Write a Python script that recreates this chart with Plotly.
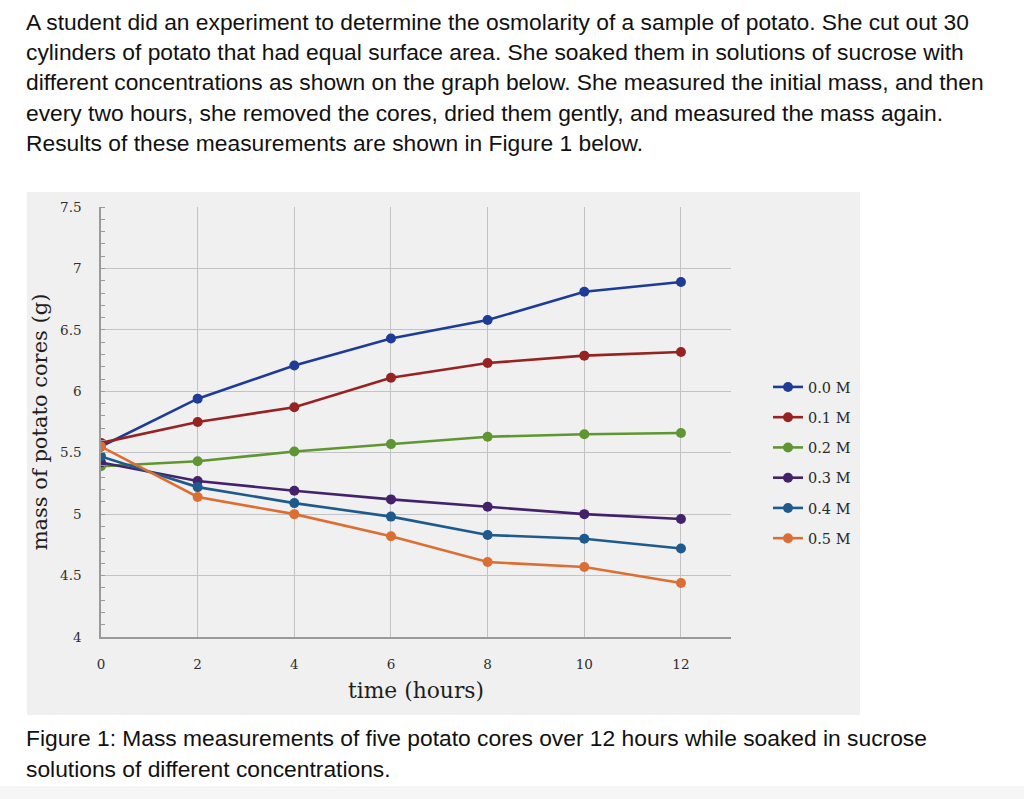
import plotly.graph_objects as go

# ---------------- data ----------------
time_hours = [0, 2, 4, 6, 8, 10, 12]
series_names = ["0.0 M", "0.1 M", "0.2 M", "0.3 M", "0.4 M", "0.5 M"]
mass_00M = [5.55, 5.94, 6.21, 6.43, 6.58, 6.81, 6.89]
mass_01M = [5.58, 5.75, 5.87, 6.11, 6.23, 6.29, 6.32]
mass_02M = [5.39, 5.43, 5.51, 5.57, 5.63, 5.65, 5.66]
mass_03M = [5.42, 5.27, 5.19, 5.12, 5.06, 5.00, 4.96]
mass_04M = [5.47, 5.22, 5.09, 4.98, 4.83, 4.80, 4.72]
mass_05M = [5.55, 5.14, 5.00, 4.82, 4.61, 4.57, 4.44]
x_ticks = [0, 2, 4, 6, 8, 10, 12]
y_ticks = [4, 4.5, 5, 5.5, 6, 6.5, 7, 7.5]
y_tick_text = ["4", "4.5", "5", "5.5", "6", "6.5", "7", "7.5"]

intro_lines = [
    "A student did an experiment to determine the osmolarity of a sample of potato. She cut out 30",
    "cylinders of potato that had equal surface area. She soaked them in solutions of sucrose with",
    "different concentrations as shown on the graph below. She measured the initial mass, and then",
    "every two hours, she removed the cores, dried them gently, and measured the mass again.",
    "Results of these measurements are shown in Figure 1 below.",
]
caption_lines = [
    "Figure 1: Mass measurements of five potato cores over 12 hours while soaked in sucrose",
    "solutions of different concentrations.",
]

colors = ["#1e3b96", "#962222", "#5f9632", "#43226b", "#1f5a8c", "#dd6e33"]
all_series = [mass_00M, mass_01M, mass_02M, mass_03M, mass_04M, mass_05M]

# ---------------- layout geometry ----------------
W, H = 1024, 799
L, R, T, B = 101, 293, 207, 162
PW, PH = W - L - R, H - T - B


def px(xp):
    return (xp - L) / PW


def py(yp):
    return (H - B - yp) / PH


fig = go.Figure()
for i, (name, ys) in enumerate(zip(series_names, all_series)):
    fig.add_trace(go.Scatter(
        x=time_hours, y=ys, name=name, mode="lines+markers",
        line=dict(color=colors[i], width=2.6),
        marker=dict(color=colors[i], size=10),
        legendgroup=name,
    ))

serif = "DejaVu Serif"
sans = "Liberation Sans, Arial, sans-serif"

annotations = []
for k, line in enumerate(intro_lines):
    annotations.append(dict(
        text=line, x=px(24), y=py(22 + k * 30.2), xref="paper", yref="paper",
        xanchor="left", yanchor="middle", showarrow=False,
        font=dict(family=sans, size=22.8, color="#111111")))
for k, line in enumerate(caption_lines):
    annotations.append(dict(
        text=line, x=px(24), y=py(738 + k * 30.5), xref="paper", yref="paper",
        xanchor="left", yanchor="middle", showarrow=False,
        font=dict(family=sans, size=22.8, color="#111111")))

shapes = [
    dict(type="rect", xref="paper", yref="paper", x0=px(27), x1=px(860), y0=py(715), y1=py(192),
         fillcolor="#eff0ef", line=dict(width=0), layer="below"),
    dict(type="rect", xref="paper", yref="paper", x0=px(0), x1=px(1024), y0=py(799), y1=py(786),
         fillcolor="#f6f6f6", line=dict(width=0), layer="below"),
]

fig.update_layout(
    width=W, height=H,
    margin=dict(l=L, r=R, t=T, b=B, autoexpand=False),
    paper_bgcolor="white", plot_bgcolor="rgba(0,0,0,0)",
    showlegend=True,
    legend=dict(x=px(768), y=py(371), xref="paper", yref="paper", xanchor="left", yanchor="top",
                traceorder="grouped", tracegroupgap=8.4, bgcolor="rgba(0,0,0,0)",
                font=dict(family=serif, size=14.5, color="#2a2a2a")),
    annotations=annotations, shapes=shapes,
    xaxis=dict(range=[0, PW / 48.33], tickvals=x_ticks, ticktext=[str(v) for v in x_ticks],
               showgrid=True, gridcolor="#c3c3c6", gridwidth=1.3, zeroline=False,
               showline=True, linecolor="#9a9a9a", linewidth=1.5,
               ticks="", ticklabelstandoff=14,
               tickfont=dict(family=serif, size=13.5, color="#2e2e2e"),
               title=dict(text="time (hours)", font=dict(family=serif, size=21.8, color="#1e1e1e"),
                          standoff=12)),
    yaxis=dict(range=[4, 7.5], tickvals=y_ticks, ticktext=y_tick_text,
               showgrid=True, gridcolor="#c3c3c6", gridwidth=1.3, zeroline=False,
               showline=True, linecolor="#9a9a9a", linewidth=1.5,
               ticks="", ticklabelstandoff=15,
               tickfont=dict(family=serif, size=13.5, color="#2e2e2e"),
               minor=dict(dtick=0.1, ticks="inside", ticklen=4, tickcolor="#9a9a9a", showgrid=False),
               title=dict(text="mass of potato cores (g)", font=dict(family=serif, size=21, color="#1e1e1e"),
                          standoff=7)),
)

fig.write_html("out.html")
